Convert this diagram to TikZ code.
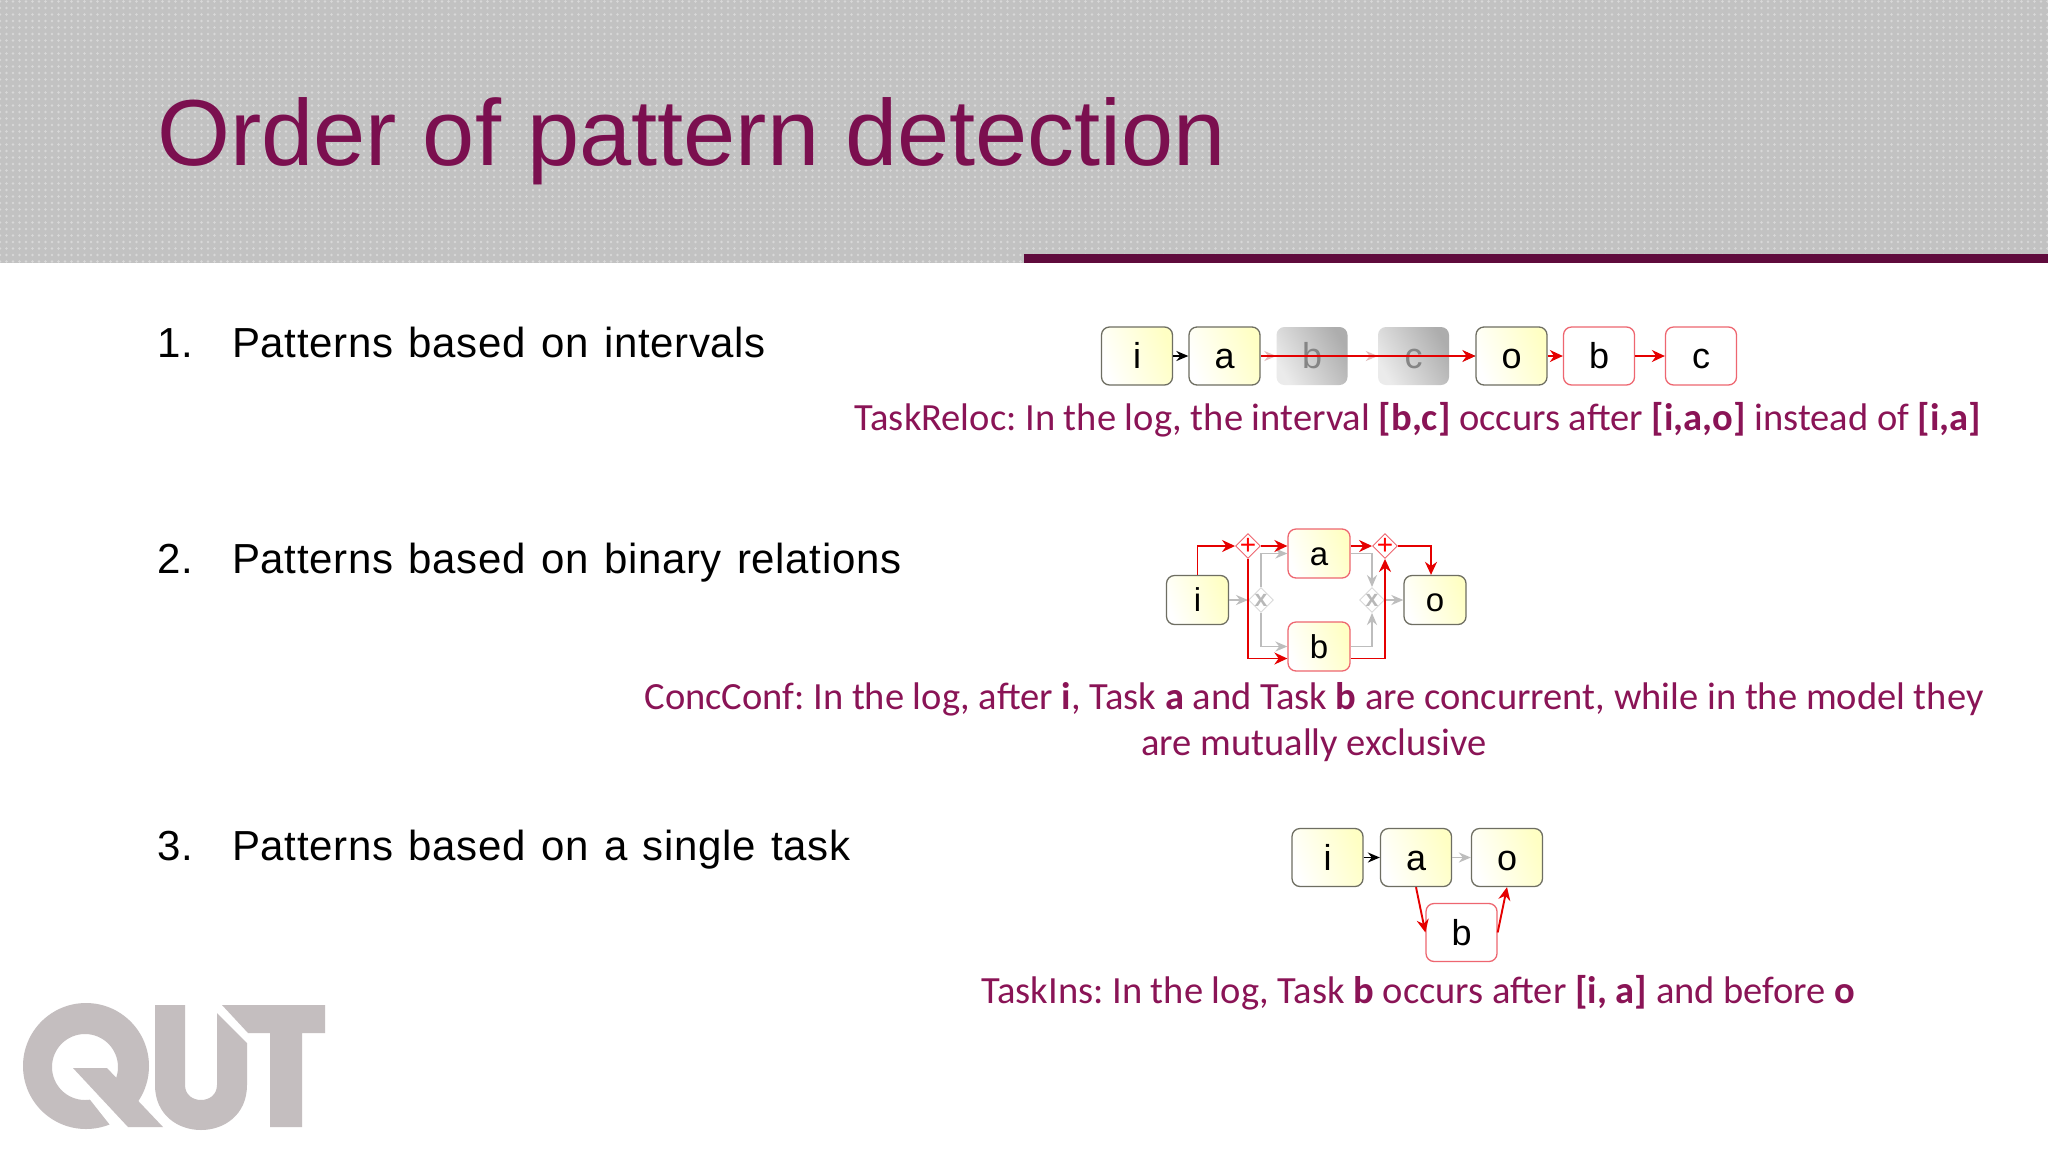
\documentclass[tikz,border=0pt]{standalone}
\usepackage{fontspec}
\setmainfont{Liberation Sans}
\newfontfamily\capfont{Carlito}
\newfontfamily\bodyfont{Liberation Sans}[WordSpace=1.25,LetterSpace=1.6]
\usetikzlibrary{arrows.meta,shapes.geometric,patterns,calc}
\pgfdeclarepatternformonly{bandots}{\pgfpoint{-1.5pt}{-1.5pt}}{\pgfpoint{1.5pt}{1.5pt}}{\pgfpoint{6.5pt}{6.5pt}}{%
  \pgfpathcircle{\pgfpointorigin}{1.3pt}\pgfusepath{fill}}
\definecolor{maroon}{HTML}{7B0F4F}
\definecolor{bardark}{HTML}{5F0A3C}
\definecolor{capcol}{HTML}{8A1456}
\definecolor{bandgrey}{HTML}{C2C2C2}
\definecolor{bandlite}{HTML}{D8D8D8}
\definecolor{logogrey}{HTML}{C4BEBF}
\definecolor{edgedark}{HTML}{6E6E62}
\definecolor{edgered}{HTML}{EE6670}
\definecolor{gline}{HTML}{BDBDBD}
\definecolor{pale}{HTML}{FFFFC4}
\tikzset{
  x=1pt,y=-1pt,
  tasklabel/.style={font=\fontsize{36}{40}\selectfont,text height=25pt,text depth=0pt,inner sep=0pt},
  task/.style={rounded corners=8pt,draw=edgedark,line width=1.3pt,
    left color=white,right color=pale,shading angle=110,tasklabel,text=black},
  whitetask/.style={rounded corners=8pt,draw=edgered,line width=1.3pt,fill=white,tasklabel,text=black},
  redtask/.style={task,draw=edgered},
  greytask/.style={rounded corners=8pt,draw=none,left color=white!92!black,right color=black!32,
    shading angle=120,tasklabel,text=black!48},
  wide/.style={minimum width=71pt,minimum height=58pt},
  narrow/.style={minimum width=62pt,minimum height=49pt,font=\fontsize{33}{36}\selectfont,text height=23pt},
  gate/.style={diamond,aspect=1,inner sep=0pt,minimum size=25pt,fill=white,line width=0.9pt},
  redgate/.style={gate,draw=edgered,label={[inner sep=0pt,text=red,font=\fontsize{28}{28}\selectfont]center:+}},
  greygate/.style={gate,draw=black!15,label={[inner sep=0pt,text=black!28,font=\bfseries\fontsize{23}{23}\selectfont]center:x}},
  blk/.style={draw=black,line width=1.8pt,-{Stealth[length=12pt,width=10pt]}},
  gry/.style={draw=gline,line width=1.8pt,-{Stealth[length=12pt,width=10pt]}},
  rd/.style={draw=red!90!black,line width=1.9pt,-{Stealth[length=13pt,width=12pt]}},
  bodytext/.style={anchor=base west,inner sep=0pt,font=\bodyfont\fontsize{42}{46}\selectfont,text=black},
  captext/.style={inner sep=0pt,anchor=base,font=\capfont\frenchspacing\fontsize{38.5}{42}\selectfont,text=capcol},
  titletext/.style={anchor=base west,inner sep=0pt,font=\fontsize{93.8}{100}\selectfont,text=maroon},
}
\begin{document}
\begin{tikzpicture}
\useasboundingbox (0,0) rectangle (2048,1152);
\fill[white] (0,0) rectangle (2048,1152);
% header band
\fill[bandgrey] (0,0) rectangle (2048,263);
\fill[pattern=bandots,pattern color=bandlite] (0,0) rectangle (2048,263);
\fill[bardark] (1024,254) rectangle (2048,263);
\node[titletext] (title) at (157,165) {Order of pattern detection};
% list
\node[bodytext] (n1) at (157,357) {1.};
\node[bodytext] (t1) at (232,357) {Patterns based on intervals};
\node[bodytext] (n2) at (157,573) {2.};
\node[bodytext] (t2) at (232,573) {Patterns based on binary relations};
\node[bodytext] (n3) at (157,860) {3.};
\node[bodytext] (t3) at (232,860) {Patterns based on a single task};
% logo
\fill[logogrey,even odd rule] (86,1066) circle (63) (85,1067) circle (33);
\fill[white] (88,1097) -- (103,1097) -- (135,1132) -- (118,1135) -- cycle;
\fill[logogrey] (73,1068) -- (107,1068) -- (163,1127) -- (128,1127) -- cycle;
\fill[logogrey] (155,1005) -- (185,1005) -- (185,1085) .. controls (185,1105) and (217,1105) .. (217,1085) -- (217,1013) -- (247,1043) -- (247,1085) .. controls (247,1145) and (155,1145) .. (155,1085) -- cycle;
\fill[logogrey] (222,1005) -- (325,1005) -- (325,1033) -- (302,1033) -- (302,1127) -- (270,1127) -- (270,1033) -- (248,1033) -- cycle;
% model 1
\node[task,wide] (ai) at (1137,356) {i};
\node[task,wide] (aa) at (1224.5,356) {a};
\node[greytask,wide] (ab) at (1312,356) {b};
\node[greytask,wide] (ac) at (1413.5,356) {c};
\node[task,wide] (ao) at (1511.5,356) {o};
\node[whitetask,wide] (ab2) at (1599,356) {b};
\node[whitetask,wide] (ac2) at (1701,356) {c};
\draw[blk] (ai.east) -- (aa.west);
\draw[gry,draw=red!25!gline!60!white] (aa.east) -- (ab.west);
\draw[gry,draw=red!25!gline!60!white] (ab.east) -- (ac.west);
\draw[blk] (ac.east) -- (ao.west);
\draw[rd] (aa.east) -- (ao.west);
\draw[rd] (ao.east) -- (ab2.west);
\draw[rd] (ab2.east) -- (ac2.west);
\node[captext] (c1) at (1418,430) {TaskReloc: In the log, the interval \textbf{[b,c]} occurs after \textbf{[i,a,o]} instead of \textbf{[i,a]}};
% model 2
\node[task,narrow] (bi) at (1197.5,600) {i};
\node[redtask,narrow] (ba) at (1319,553.5) {a};
\node[redtask,narrow] (bb) at (1319,646.5) {b};
\node[task,narrow] (bo) at (1435,600) {o};
\node[redgate] (p1) at (1248,546) {};
\node[redgate] (p2) at (1385,546) {};
\node[greygate] (x1) at (1261,600) {};
\node[greygate] (x2) at (1372,600) {};
\draw[gry] (bi.east) -- (x1.west);
\draw[gry] (x1.north) |- (ba.west);
\draw[gry] (x1.south) |- (bb.west);
\draw[gry] (ba.east) -| (x2.north);
\draw[gry] (bb.east) -| (x2.south);
\draw[gry] (x2.east) -- (bo.west);
\draw[rd] (bi.north) |- (p1.west);
\draw[rd] (p1.east) -- (ba.west |- p1.east);
\draw[rd] (p1.south) |- ($(bb.west)+(0,12)$);
\draw[rd] ($(ba.east)+(0,-7.5)$) -- (p2.west);
\draw[rd] ($(bb.east)+(0,12)$) -| (p2.south);
\draw[rd] (p2.east) -| ($(bo.north)+(-4,0)$);
\node[captext] (c2a) at (1314,709) {ConcConf: In the log, after \textbf{i}, Task \textbf{a} and Task \textbf{b} are concurrent, while in the model they};
\node[captext] (c2b) at (1314,755) {are mutually exclusive};
% model 3
\node[task,wide] (ci) at (1327.5,857.5) {i};
\node[task,wide] (ca) at (1416,857.5) {a};
\node[task,wide] (co) at (1507,857.5) {o};
\node[whitetask,wide] (cb) at (1461.5,932.5) {b};
\draw[blk] (ci.east) -- (ca.west);
\draw[gry] (ca.east) -- (co.west);
\draw[rd] (ca.south) -- (cb.west);
\draw[rd] (cb.east) -- (co.south);
\node[captext] (c3) at (1418.5,1003) {TaskIns: In the log, Task \textbf{b} occurs after \textbf{[i, a]} and before \textbf{o}};
\end{tikzpicture}
\end{document}
